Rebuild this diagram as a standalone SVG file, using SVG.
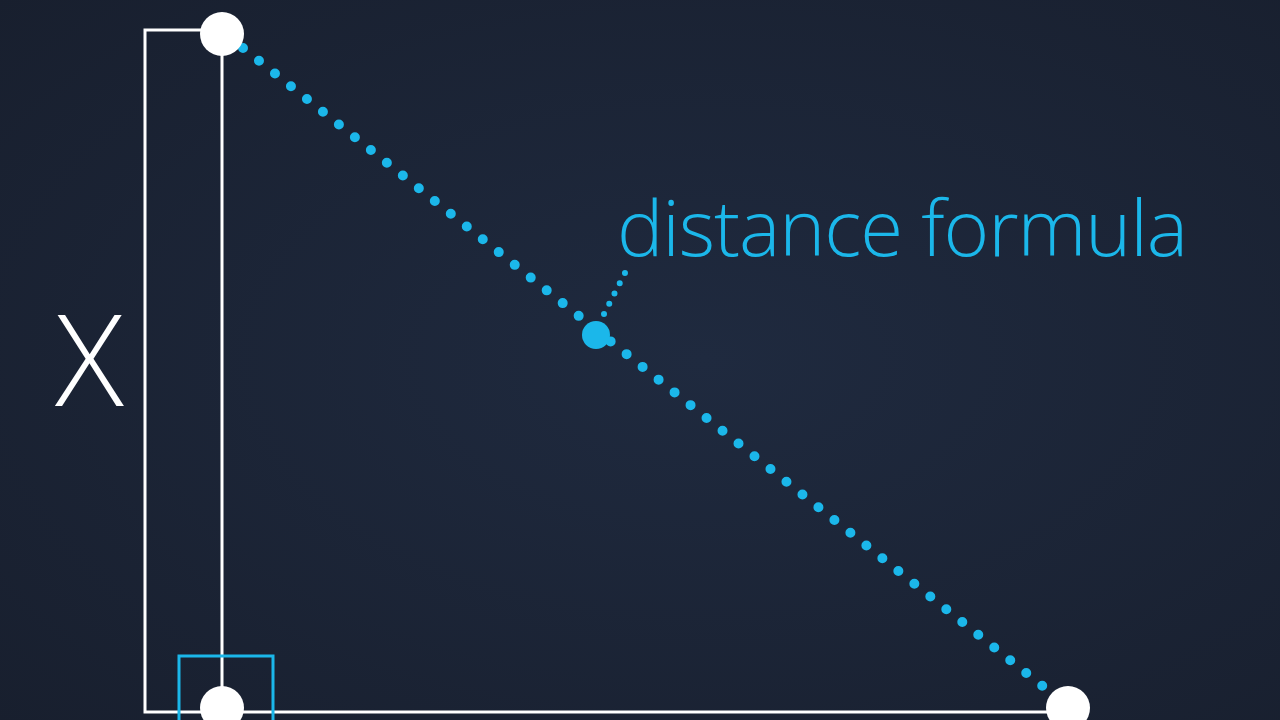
<svg xmlns="http://www.w3.org/2000/svg" width="1280" height="720" viewBox="0 0 1280 720">
<defs>
<radialGradient id="bg" cx="0.55" cy="0.5" r="0.75">
<stop offset="0" stop-color="#1f2a3f"/>
<stop offset="1" stop-color="#181f2e"/>
</radialGradient>
<style>
.w{fill:none;stroke:#ffffff;stroke-width:3}
.dot{fill:none;stroke:#1bb7ea;stroke-linecap:round}
.node{fill:#ffffff}
.lbl{font-family:"Open Sans","Noto Sans",sans-serif;font-weight:300}
</style>
</defs>
<rect width="1280" height="720" fill="url(#bg)"/>
<g id="frame">
<polyline class="w" points="222,30 145,30 145,712 1068,712"/>
<line class="w" x1="222" y1="30" x2="222" y2="712"/>
</g>
<g id="right-angle">
<polyline points="179,722 179,656 273,656 273,722" fill="none" stroke="#1bb7ea" stroke-width="3"/>
</g>
<g id="connectors">
<line class="dot" x1="243" y1="48" x2="1050" y2="692" stroke-width="10" stroke-dasharray="0 20.45"/>
<line class="dot" x1="604" y1="314" x2="625" y2="273" stroke-width="6" stroke-dasharray="0 11.5"/>
</g>
<g id="point-top"><circle class="node" cx="222" cy="34" r="22"/></g>
<g id="point-corner"><circle class="node" cx="222" cy="708" r="22"/></g>
<g id="point-right"><circle class="node" cx="1068" cy="708" r="22"/></g>
<g id="midpoint"><circle cx="596" cy="335" r="14" fill="#1bb7ea"/></g>
<g id="label-distance"><text class="lbl" x="617" y="256" font-size="78" fill="#1bb7ea" textLength="571">distance formula</text></g>
<g id="label-x"><text class="lbl" x="55" y="406" font-size="128" fill="#ffffff">X</text></g>
</svg>
